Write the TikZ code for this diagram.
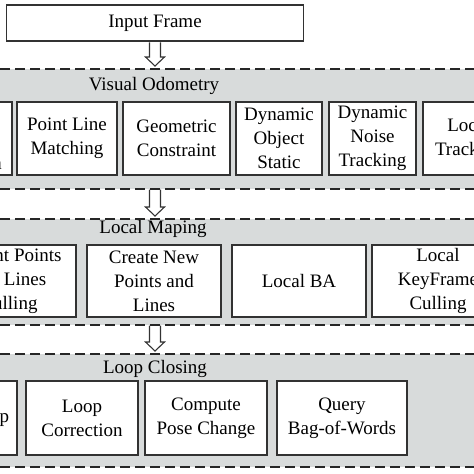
\documentclass[tikz,border=0pt]{standalone}
\usepackage{fontspec}
\setmainfont{Liberation Serif}
\usetikzlibrary{calc}
\definecolor{panelgray}{RGB}{216,219,219}
\definecolor{boxline}{RGB}{50,50,50}

\begin{document}
\begin{tikzpicture}[x=1pt,y=-1pt,
    box/.style={draw=boxline, fill=white, line width=1.3pt, align=center, inner sep=0pt, font=\fontsize{19}{24}\selectfont},
    title/.style={anchor=base, inner sep=0pt, font=\fontsize{19}{24}\selectfont},
    band/.style={fill=panelgray},
    border/.style={draw=black!85, line width=1.8pt, dash pattern=on 10pt off 5pt},
    hollow/.style={draw=black!80, fill=white, line width=1.1pt, line join=miter}]
    \useasboundingbox (0,0) rectangle (474,474);
    \clip (0,0) rectangle (474,474);

    % Gray bands of the three stages
    \fill[band] (0,69) rectangle (474,189);
    \fill[band] (0,219) rectangle (474,325);
    \fill[band] (0,354) rectangle (474,467);

    % Stage borders
    \coordinate (vo-top) at (155,69);
    \coordinate (vo-bot) at (155,189);
    \coordinate (lm-top) at (155,219);
    \coordinate (lm-bot) at (155,325);
    \coordinate (lc-top) at (155,354);

    % Input
    \node[box, minimum width=297, minimum height=36] (frame) at (155,23) {Input Frame};

    % Visual odometry
    \node[title] (vo) at (154,90) {Visual Odometry};
    \node[box, minimum width=120, minimum height=73] (vo1) at (-48,138.5) {Read\\Frame\\Camera Data};
    \node[box, minimum width=100, minimum height=73] (vo2) at (67,138.5) {Point Line\\Matching};
    \node[box, minimum width=107, minimum height=73] (vo3) at (176.5,138.5) {Geometric\\Constraint};
    \node[box, minimum width=86, minimum height=73] (vo4) at (279,138.5) {Dynamic\\Object\\Static};
    \node[box, minimum width=87, minimum height=73] (vo5) at (372.5,138.5) {Dynamic\\Noise\\Tracking};
    \node[box, minimum width=92, minimum height=73] (vo6) at (469,138.5) {Local\\Tracking};

    % Local mapping
    \node[title] (lm) at (153,233) {Local Maping};
    \node[box, minimum width=134, minimum height=72] (lm1) at (9,281) {Recent Points\\and Lines\\Culling};
    \node[box, minimum width=134, minimum height=72] (lm2) at (154,281) {Create New\\Points and\\Lines};
    \node[box, minimum width=134, minimum height=72] (lm3) at (299,281) {Local BA};
    \node[box, minimum width=132, minimum height=72] (lm4) at (438,281) {Local\\KeyFrame\\Culling};

    % Loop closing
    \node[title] (lc) at (155,373) {Loop Closing};
    \node[box, minimum width=110, minimum height=74] (lc1) at (-38,418) {Detect Loop};
    \node[box, minimum width=112, minimum height=74] (lc2) at (82,418) {Loop\\Correction};
    \node[box, minimum width=122, minimum height=74] (lc3) at (206,418) {Compute\\Pose Change};
    \node[box, minimum width=130, minimum height=74] (lc4) at (342,418) {Query\\Bag-of-Words};

    % Hollow arrows between stages
    \foreach \s/\e in {frame.south/vo-top, vo-bot/lm-top, lm-bot/lc-top}
        \draw[hollow] ($(\s)+(-5.5,0.7)$) -- ($(\e)+(-5.5,-12)$) -- ($(\e)+(-9.5,-12)$) -- ($(\e)+(0,-3)$)
            -- ($(\e)+(9.5,-12)$) -- ($(\e)+(5.5,-12)$) -- ($(\s)+(5.5,0.7)$);

    \foreach \y in {69,189,219,325,354,467}
        \draw[border] (0,\y) -- (474,\y);
\end{tikzpicture}
\end{document}
